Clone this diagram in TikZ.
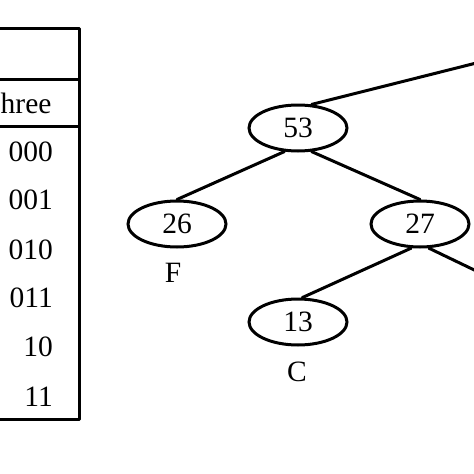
\documentclass[tikz,border=0pt]{standalone}
\usepackage{fontspec}
\setmainfont{Liberation Serif}
\usetikzlibrary{shapes.geometric}
\tikzset{
  ln/.style={line width=3pt, line cap=round, line join=round},
  nd/.style={ellipse, draw, line width=3pt, minimum width=98pt, minimum height=46pt, inner sep=0pt},
  txt/.style={inner sep=0pt, font=\fontsize{29.5}{34}\selectfont},
}
\begin{document}
\begin{tikzpicture}[x=1pt,y=-1pt]
\useasboundingbox (0,0) rectangle (474,474);
\clip (0,0) rectangle (474,474);
% table
\coordinate (tl) at (-20,28);
\coordinate (tr) at (79,28);
\coordinate (m1l) at (-20,79);
\coordinate (m1r) at (79,79);
\coordinate (m2l) at (-20,126);
\coordinate (m2r) at (79,126);
\coordinate (bl) at (-20,419);
\coordinate (br) at (79,419);
\draw[ln] (tl) -- (tr) -- (br) -- (bl);
\draw[ln] (m1l) -- (m1r);
\draw[ln] (m2l) -- (m2r);
\node[txt, anchor=west] (hd) at (0.5,103) {hree};
\node[txt, anchor=east] (r1) at (53,152) {000};
\node[txt, anchor=east] (r2) at (53,200) {001};
\node[txt, anchor=east] (r3) at (53,250) {010};
\node[txt, anchor=east] (r4) at (53,298) {011};
\node[txt, anchor=east] (r5) at (53,347) {10};
\node[txt, anchor=east] (r6) at (53,397) {11};
% tree
\node[nd, txt, inner sep=0pt] (n53) at (298,128) {53};
\node[nd, txt, inner sep=0pt] (n26) at (177,224) {26};
\node[nd, txt, inner sep=0pt] (n27) at (420,224) {27};
\node[nd, txt, inner sep=0pt] (n13) at (298,322) {13};
\node[txt] (lf) at (173,273) {F};
\node[txt] (lc) at (297,372) {C};
\coordinate (par) at (540,47);
\coordinate (rch) at (520,292);
\draw[ln] (n53.60) -- (par);
\draw[ln] (n53.240) -- (n26.north);
\draw[ln] (n53.300) -- (n27.north);
\draw[ln] (n27.250) -- (n13.80);
\draw[ln] (n27.290) -- (rch);
\end{tikzpicture}
\end{document}
